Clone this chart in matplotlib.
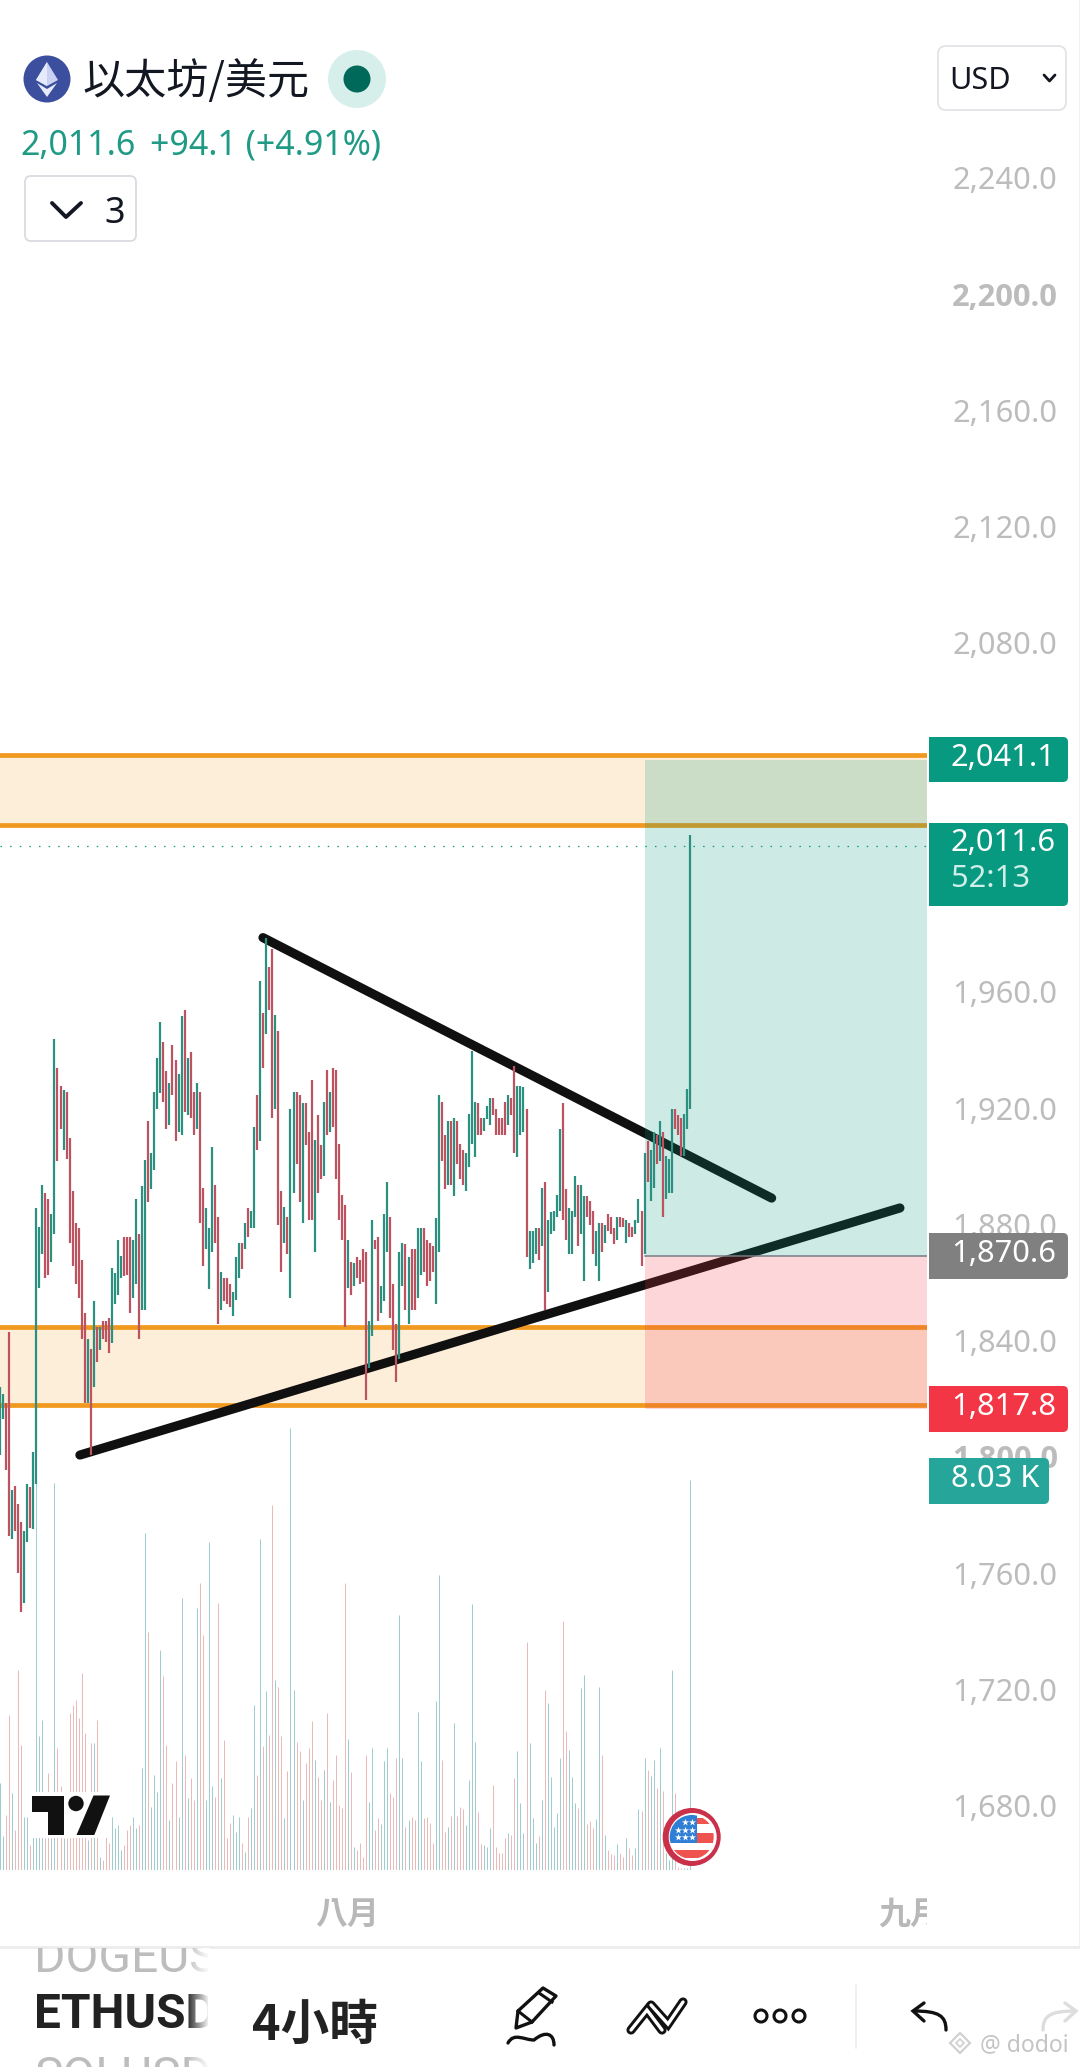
import numpy as np
import matplotlib
matplotlib.use("Agg")
import matplotlib.pyplot as plt
from matplotlib.patches import Rectangle, Circle, FancyBboxPatch, Polygon, PathPatch
from matplotlib.path import Path
from matplotlib.transforms import ScaledTranslation, Bbox

plt.rcParams['font.family'] = ['Noto Sans', 'Noto Sans CJK TC', 'DejaVu Sans']

# ---------- data ----------
highs = [1825.5,1823,1820,1844.5,1790,1791.5,1785,1779,1776,1792,
 1791,1803,1887,1880.5,1895,1892,1890,1885,1945,1935,
 1929,1927.5,1927,1911,1893,1882,1880,1869,1851,1842,
 1838.5,1855,1846,1846,1848,1848,1849,1866.5,1864.5,1876,
 1870.5,1877,1877,1877,1876,1890,1878,1894.5,1903.5,1917,
 1906,1927,1938.5,1951,1944,1934,1930,1943,1938,1933,
 1953,1955,1938.5,1940.5,1927,1930,1927,1894,1887,1880,
 1908,1895,1884,1865,1863,1863,1861,1858,1870,1875,
 1875,1882,1887,1886,1915,1926,1965,1954,1980,1970,
 1976,1953.5,1948,1893,1887.5,1884,1921,1927,1927,1926,
 1923,1923,1913,1931,1910.5,1919,1908.5,1923.5,1934.5,1927,
 1935,1934.5,1909,1891.5,1888,1876,1868.5,1868,1870,1869,
 1873,1872,1848,1883,1876,1877,1860,1885,1896,1884,
 1861,1847,1872,1875,1874.5,1870,1873,1873,1880,1880,
 1880,1876,1875,1874,1883.5,1926,1923.5,1912,1917,1917,
 1918,1917,1909,1907,1906,1919.5,1941,1923.5,1923,1918,
 1918,1922,1925,1925,1921,1918,1918,1923.5,1926,1925,
 1936,1929,1929,1928.5,1921,1879,1879,1880,1880,1894,
 1896,1883,1885.5,1886,1891.5,1914,1923,1893.5,1887,1886,
 1898,1895,1895,1891,1891,1889.5,1886,1879,1882,1882,
 1881,1885,1884,1880,1884,1884,1883.5,1883,1882,1880.5,
 1883,1890,1886,1906,1910,1907,1913,1912,1917,1913,
 1905,1904,1921,1921,1919,1918,1919.5,1928,2015.3]
lows = [1802,1814.5,1797,1774,1773,1776,1761.5,1748,1751,1772,
 1777,1776.5,1792,1859.5,1871,1863,1864,1868.5,1878,1903,
 1914,1907,1904,1875,1867,1861,1856,1842,1820,1820,
 1802,1825.5,1834,1838,1842,1841,1837,1840.5,1854,1857,
 1863,1863.5,1864,1851,1856,1861,1842,1852,1852,1889,
 1893.5,1900,1921,1926.5,1923.5,1914,1915.5,1926,1910,1913,
 1912,1920,1919,1918,1912,1914,1882,1867,1873,1859,
 1872,1875,1847,1852,1855,1854,1853,1850,1855.5,1863,
 1866,1873,1877,1880,1880,1907,1910,1935,1947,1955,
 1918,1921,1881,1865,1875,1871,1856,1892,1902,1889,
 1882,1908.5,1883,1883,1872,1892,1897,1898,1912,1913,
 1915,1897,1883,1876,1846,1859.5,1857,1860,1863,1861,
 1861.5,1821,1832,1843,1873,1848,1851,1855,1872,1849,
 1838,1827,1835,1860,1852,1847,1852,1852,1856,1864,
 1865,1860,1862,1865,1854,1872,1903,1893.5,1895,1895,
 1891,1902,1897,1895,1893,1901,1909,1904.5,1912,1912,
 1913.5,1917.5,1915.5,1919,1912,1912,1912,1912,1915.5,1919,
 1906,1904.5,1912,1913,1870,1866,1868,1871,1869,1874,
 1852,1858,1878,1879,1884,1886,1883,1876,1871,1871,
 1884,1874,1878,1862,1884,1881,1871,1867,1862,1872,
 1875,1879,1878,1874.5,1876,1880.5,1880.5,1875,1877,1877,
 1878,1882,1867,1871,1896,1889.5,1894,1902,1903,1884,
 1890,1892,1892,1914,1912,1905,1905,1914,1921]
directions = ("uuddudddUU" "duuuudduud" "dudddddddu" "dududdduuu" "udddUudUUd"
              "uuuuddUddu" "ududdUddUU" "uddUdddUUU" "dUdUUdUdUd" "dUddUdUUdd"
              "UdddUddUdU" "dddddUdUdd" "ddUUddUUUd" "ddUUdUddUU" "ddddUUddUd"
              "UdddUUUUdd" "UUUdddddUd" "dUUUdUUUdU" "dUUUUUddUU" "UdUUdddUUd"
              "UdddUddUdd" "UUdUdUUdUd" "UUUdddUUU").lower()
volumes = [1790,690,1130,3200,1580,825,4125,2580,1100,1100,
 515,930,7975,2750,3090,655,1995,655,7975,2510,
 1720,655,655,3230,3400,3505,3130,4055,2820,620,
 2610,2610,3090,275,205,755,550,1100,860,930,
 410,515,825,930,1100,860,930,2095,6930,4900,
 1305,1960,1615,4525,4000,2580,1030,1790,2235,1100,
 5600,2370,1480,1890,1445,5400,5900,4845,1445,6760,
 1720,1510,5500,1890,2670,655,960,1130,790,1100,
 550,380,1100,1270,3400,1960,6805,2545,3680,2785,
 7510,3920,3760,2765,1065,2030,9110,3710,2645,2440,
 1445,2200,2510,3060,2270,1925,1445,2060,3230,1410,
 1855,2370,1340,1270,5910,2695,2010,480,410,550,
 275,2370,1410,2510,825,1065,950,2235,2510,1580,
 1510,2300,5260,2300,895,1030,1100,1030,3250,2235,
 1065,1100,960,550,3470,6065,2270,790,895,1115,
 3025,1115,1305,1250,930,1855,5480,2645,1200,535,
 515,480,860,1755,480,360,360,655,770,720,
 1890,2460,1375,755,4690,2610,1065,565,690,1445,
 3700,3440,1905,880,1180,2300,5120,2855,2475,1905,
 1375,1270,3750,4020,950,1000,860,1045,3760,2370,
 720,410,330,310,535,345,275,655,445,310,
 445,1250,1225,2300,2050,1940,2270,1685,2510,1635,
 345,205,4110,1580,70,35,35,35,8030]
price_ticks = [1680,1720,1760,1800,1840,1880,1920,1960,2000,2040,2080,2120,2160,2200,2240]
major_ticks = [1800,2000,2200]
month_positions = [114.8, 300.7]
month_labels = ['八月', '九月']
zone_high = (2018.9, 2042.8)
zone_low = (1819.2, 1846.0)
take_profit, entry, stop_loss = 2041.1, 1870.6, 1817.8
position_start = 213
last_price = 2011.6
falling_x, falling_y = [86.9, 255.0], [1980.0, 1890.4]
rising_x, rising_y = [26.4, 297.4], [1802.0, 1887.0]

UP, DOWN = '#2b9080', '#bd5260'
VUP, VDOWN = '#9fcccf', '#e9bab8'
ORANGE = '#f0991e'
ZONE = '#fdeed9'
GREEN = '#089981'
RED = '#f23645'

W, H = 1080, 2067
AX_R, AX_B = 927, 1870
fig = plt.figure(figsize=(W/100, H/100), dpi=100, facecolor='white')
pos = [0, 1-AX_B/H, AX_R/W, AX_B/H]
x_max = AX_R/3.026
y_lim = (1659.26, 2302.55)

idx = np.arange(len(highs))
ax_vol = fig.add_axes(pos, zorder=1)
ax_vol.set_xlim(0, x_max); ax_vol.set_ylim(0, AX_B*20.59); ax_vol.axis('off')
ax_vol.vlines(idx, 0, volumes, colors=[VUP if d == 'u' else VDOWN for d in directions], linewidth=0.72)

ax = fig.add_axes(pos, zorder=2)
ax.patch.set_alpha(0)
ax.set_xlim(0, x_max); ax.set_ylim(*y_lim)
for s in ax.spines.values():
    s.set_visible(False)

for lo, hi in (zone_high, zone_low):
    ax.axhspan(lo, hi, color=ZONE, lw=0, zorder=1)
    ax.axhline(lo, color=ORANGE, lw=3.4, zorder=1.5)
    ax.axhline(hi, color=ORANGE, lw=3.4, zorder=1.5)

ax.plot(falling_x, falling_y, color='#101010', lw=6.6, solid_capstyle='round', zorder=2)
ax.plot(rising_x, rising_y, color='#101010', lw=6.6, solid_capstyle='round', zorder=2)

ax.fill_between([position_start, x_max], entry, take_profit, color=GREEN, alpha=0.2, lw=0, zorder=3)
ax.fill_between([position_start, x_max], stop_loss, entry, color=RED, alpha=0.2, lw=0, zorder=3)
ax.plot([position_start, x_max], [entry, entry], color='#787b86', lw=1.1, zorder=3.5)
ax.axhline(last_price, color=GREEN, lw=0.9, ls=(0, (1.2, 6.5)), zorder=3.6)

ax.vlines(idx, lows, highs, colors=[UP if d == 'u' else DOWN for d in directions], linewidth=1.6, zorder=4)

# price axis
ax.yaxis.tick_right()
ax.set_yticks(price_ticks)
ax.set_yticklabels([f'{p:,.1f}' for p in price_ticks])
ax.tick_params(axis='y', length=0, pad=18.2, labelsize=22.2, labelcolor='#bcbcbc')
shift = ScaledTranslation(0, 4/100, fig.dpi_scale_trans)
for p, lab in zip(price_ticks, ax.get_yticklabels()):
    lab.set_transform(lab.get_transform() + shift)
    if p in major_ticks:
        lab.set_fontfamily('Open Sans')
        lab.set_fontweight('bold')
# time axis
ax.set_xticks(month_positions)
ax.set_xticklabels(month_labels)
ax.tick_params(axis='x', length=0, pad=20.5, labelsize=23, labelcolor='#b8b8b8')
clip = Bbox([[0, 0], [AX_R, H]])
for lab in ax.get_xticklabels():
    lab.set_fontfamily(['Noto Sans CJK TC', 'DejaVu Sans'])
    lab.set_fontweight('bold')
    lab.set_clip_box(clip)
    lab.set_clip_on(True)

# ---------- interface furniture, pixel coordinates ----------
ui = fig.add_axes([0, 0, 1, 1], zorder=5)
ui.set_xlim(0, W); ui.set_ylim(H, 0); ui.axis('off'); ui.patch.set_alpha(0)
CJK = ['Noto Sans CJK TC', 'DejaVu Sans']

# header
ui.add_patch(Circle((47, 79), 23.5, fc='#3b4f9e', ec='none'))
ui.add_patch(Polygon([(47, 62), (58, 80), (47, 86), (36, 80)], fc='#c9d2f2', ec='none'))
ui.add_patch(Polygon([(47, 62), (36, 80), (47, 86)], fc='#e6eafa', ec='none'))
ui.add_patch(Polygon([(37, 83), (47, 89), (57, 83), (47, 97)], fc='#e6eafa', ec='none'))
ui.text(82, 82, '以太坊/美元', fontsize=30.3, color='#131722', va='center', ha='left', family=CJK)
ui.add_patch(Circle((357, 79), 29, fc='#d6efea', ec='none'))
ui.add_patch(Circle((357, 79), 13.5, fc='#00695a', ec='none'))
ui.text(20, 146, '2,011.6', fontsize=24.4, color='#1f9a85', va='center', ha='left')
ui.text(150, 146, '+94.1 (+4.91%)', fontsize=24.4, color='#1f9a85', va='center', ha='left')
ui.add_patch(FancyBboxPatch((25, 176), 111, 65, boxstyle='round,pad=0,rounding_size=6', fc='white', ec='#d9dbe0', lw=1.3))
ui.plot([52, 66, 81], [203, 217, 203], color='#131722', lw=2.8, solid_capstyle='round')
ui.text(115, 214, '3', fontsize=26, color='#131722', va='center', ha='center')
ui.add_patch(FancyBboxPatch((938, 46), 128, 64, boxstyle='round,pad=0,rounding_size=8', fc='white', ec='#e2e3e6', lw=1.3))
ui.text(949, 81, 'USD', fontsize=22, color='#131722', va='center', ha='left')
ui.plot([1044, 1049.5, 1055], [75, 81, 75], color='#131722', lw=2, solid_capstyle='round')

# price flags
flags = [(737, 782, GREEN, 1068, ['2,041.1']),
         (823, 906, GREEN, 1068, ['2,011.6', '52:13']),
         (1233, 1279, '#808080', 1068, ['1,870.6']),
         (1386, 1432, RED, 1068, ['1,817.8']),
         (1458, 1504, '#26a69a', 1049, ['8.03 K'])]
for top, bot, col, right, texts in flags:
    ui.add_patch(FancyBboxPatch((929, top), right-929, bot-top, boxstyle='round,pad=0,rounding_size=5', fc=col, ec='none'))
    ui.add_patch(Rectangle((929, top), 12, bot-top, fc=col, ec='none'))
    if len(texts) == 1:
        ui.text(951, (top+bot)/2-2, texts[0], fontsize=22.2, color='white', va='center', ha='left')
    else:
        ui.text(951, top+20, texts[0], fontsize=22.2, color='white', va='center', ha='left')
        ui.text(951, top+56, texts[1], fontsize=22.2, color='#cdefe7', va='center', ha='left')

# TradingView mark
ui.add_patch(Rectangle((28, 1792), 84, 46, fc='white', ec='none'))
ui.add_patch(Polygon([(31.5, 1795.5), (63.5, 1795.5), (63.5, 1835), (47.5, 1835), (47.5, 1811.5), (31.5, 1811.5)], fc='#111111', ec='none'))
ui.add_patch(Circle((76, 1803.5), 7.7, fc='#111111', ec='none'))
ui.add_patch(Polygon([(93.5, 1795.5), (110, 1795.5), (94.3, 1835), (76.5, 1835)], fc='#111111', ec='none'))

# flag badge
cx, cy = 691.7, 1837.0
ui.add_patch(Circle((cx, cy), 29, fc='#c9304a', ec='none'))
ui.add_patch(Circle((cx+1, cy), 24, fc='white', ec='none'))
disc = Circle((cx, cy), 22, transform=ui.transData)
for rect, col in [(((697, 1818), 20, 6), '#ef5350'), (((697, 1833), 20, 10), '#ef5350'),
                  (((665, 1850), 54, 8), '#ef5350'), (((665, 1814), 32, 29), '#2f7fd6')]:
    r = Rectangle(*rect, fc=col, ec='none')
    ui.add_patch(r)
    r.set_clip_path(disc)
ui.scatter([685, 692, 678, 685, 692, 678, 685, 692], [1822, 1822, 1830, 1830, 1830, 1837, 1837, 1837],
           marker='*', s=28, c='white', linewidths=0, zorder=6)

# toolbar
ui.plot([0, W], [1946.5, 1946.5], color='#ececec', lw=2)
ui.plot([1079, 1079], [0, 1946], color='#f0f0f0', lw=0.8)
list_clip = Rectangle((34, 1948), 174, 119, transform=ui.transData)
for y, label, col, weight in [(1959, 'DOGEUSD', '#bdbdbd', 'normal'), (2015, 'ETHUSD', '#222222', 'bold'), (2078, 'SOLUSD', '#bdbdbd', 'normal')]:
    t = ui.text(34, y, label, fontsize=34.5, color=col, fontweight=weight, va='center', ha='left', family='Roboto')
    t.set_clip_on(True)
    t.set_clip_path(list_clip)
grad = np.ones((1, 40, 4)); grad[0, :, 3] = np.linspace(0, 1, 40)
ui.imshow(grad, extent=(186, 210, H, 1948), aspect='auto', zorder=3)
ui.set_xlim(0, W); ui.set_ylim(H, 0)
ui.text(252, 2025, '4小時', fontsize=35, color='#222222', va='center', ha='left', family=CJK, fontweight='bold')

# pencil
ui.add_patch(Polygon([(516, 2028), (518, 2011), (543, 1988), (556, 1996), (532, 2022)], fc='white', ec='#111111', lw=2.4, joinstyle='round'))
ui.plot([518, 532], [2011, 2022], color='#111111', lw=2.2)
ui.plot([539, 552], [1993, 2002], color='#111111', lw=2.2)
squig = Path([(508, 2043), (514, 2032), (524, 2040), (534, 2040), (546, 2030), (554, 2034), (554, 2045)],
             [Path.MOVETO, Path.CURVE4, Path.CURVE4, Path.CURVE4, Path.CURVE4, Path.CURVE4, Path.CURVE4])
ui.add_patch(PathPatch(squig, fc='none', ec='#111111', lw=2.4, capstyle='round'))
# drawing tools icon
for xs, ys in [([631, 647, 662], [2030, 2010, 2030]), ([651, 668, 683], [2005, 2024, 2002])]:
    ui.plot(xs, ys, color='#111111', lw=6.6, solid_joinstyle='miter', solid_capstyle='round')
    ui.plot(xs, ys, color='white', lw=2.4, solid_joinstyle='miter', solid_capstyle='round')
# dots
for x in (761, 780, 799):
    ui.add_patch(Circle((x, 2016), 6, fc='white', ec='#111111', lw=2.2))
ui.plot([856, 856], [1985, 2048], color='#eeeeee', lw=1.2)
# undo / redo
for col, sgn, x0 in [('#111111', 1, 929), ('#dddddd', -1, 1060)]:
    arc = Path([(x0+sgn*17, 2030), (x0+sgn*17, 2016), (x0+sgn*10, 2011), (x0-sgn*15, 2011)],
               [Path.MOVETO, Path.CURVE4, Path.CURVE4, Path.CURVE4])
    ui.add_patch(PathPatch(arc, fc='none', ec=col, lw=2.4, capstyle='round'))
    ui.plot([x0-sgn*5, x0-sgn*16, x0-sgn*5], [2003, 2011, 2021], color=col, lw=2.4, solid_capstyle='round', solid_joinstyle='miter')
# watermark
ui.add_patch(Polygon([(960, 2033), (970, 2043), (960, 2053), (950, 2043)], fc='none', ec='#cfcfcf', lw=1.5))
ui.add_patch(Polygon([(960, 2039), (964, 2043), (960, 2047), (956, 2043)], fc='none', ec='#cfcfcf', lw=1.2))
ui.text(980, 2045, '@ dodoi', fontsize=16.5, color='#c4c4c4', va='center', ha='left')

fig.savefig('out.png', dpi=100, facecolor='white')
